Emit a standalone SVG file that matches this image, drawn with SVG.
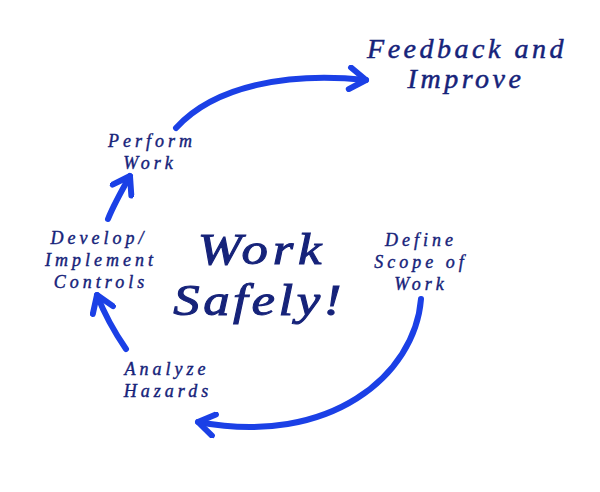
<svg xmlns="http://www.w3.org/2000/svg" width="600" height="492" viewBox="0 0 600 492">
<defs>
<style>
.t{font-family:"Liberation Serif",serif;font-style:italic;fill:#16237a;stroke:#16237a;text-anchor:middle}
.s{font-size:18px;letter-spacing:4px;stroke-width:0.4px}
.b{font-size:44px;stroke-width:1px}
.f{font-size:28px;letter-spacing:3.5px;stroke-width:0.5px}
.a{fill:none;stroke:#1b40e6;stroke-width:6;stroke-linecap:round}
</style>
<marker id="h" viewBox="0 0 10 10" refX="8" refY="5" markerWidth="4.5" markerHeight="4.5" orient="auto" markerUnits="strokeWidth">
<path d="M2,1 L8,5 L2,9" fill="none" stroke="#1b40e6" stroke-width="2.2" stroke-linecap="round" stroke-linejoin="round"/>
</marker>
</defs>
<rect width="600" height="492" fill="#fff"/>
<g id="connectors">
<path class="a" d="M176,128 C215,85 290,72 366,80" marker-end="url(#h)"/>
<path class="a" d="M108,219 C114,204 122,190 130,176" marker-end="url(#h)"/>
<path class="a" d="M126,349 C115,333 104,313 97,295" marker-end="url(#h)"/>
<path class="a" d="M421,299 C415,375 330,447 198,422" marker-end="url(#h)"/>
</g>
<g id="center"><text class="t b" transform="translate(262,264) scale(1.2,1)" style="letter-spacing:4px">Work</text><text class="t b" transform="translate(259,315) scale(1.2,1)" style="letter-spacing:3px">Safely!</text></g>
<g id="feedback"><text class="t f" x="467" y="58">Feedback and</text><text class="t f" x="466" y="88">Improve</text></g>
<g id="perform"><text class="t s" x="152" y="147">Perform</text><text class="t s" x="150" y="169">Work</text></g>
<g id="develop"><text class="t s" x="99" y="244">Develop/</text><text class="t s" x="101" y="266">Implement</text><text class="t s" x="101" y="288">Controls</text></g>
<g id="analyze"><text class="t s" x="167" y="375">Analyze</text><text class="t s" x="168" y="397">Hazards</text></g>
<g id="define"><text class="t s" x="421" y="246">Define</text><text class="t s" x="421" y="268">Scope of</text><text class="t s" x="421" y="290">Work</text></g>
</svg>
